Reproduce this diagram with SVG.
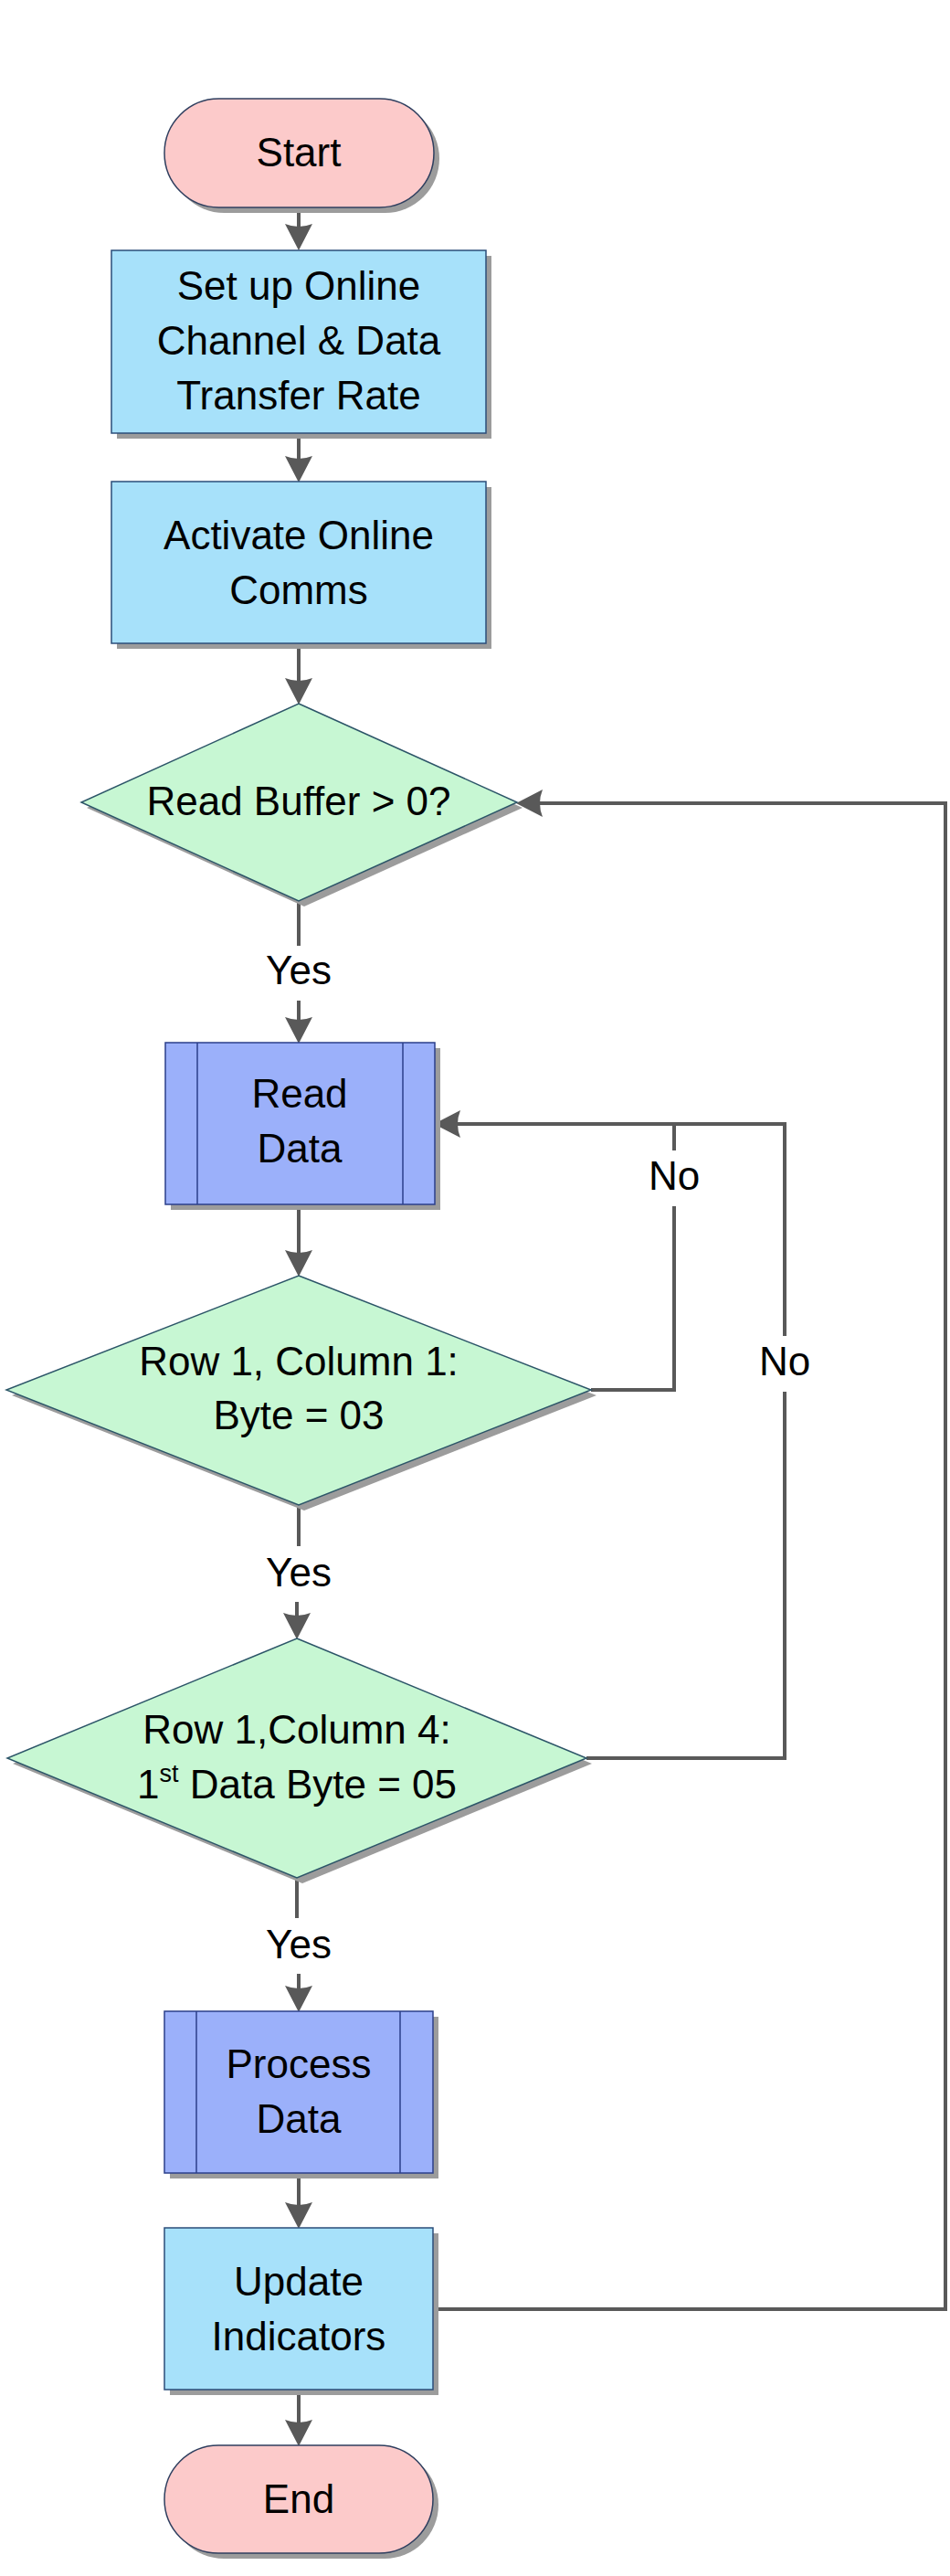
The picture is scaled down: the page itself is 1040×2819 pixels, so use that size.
<svg xmlns="http://www.w3.org/2000/svg" width="1040" height="2819" viewBox="0 0 1040 2819">
<style>
text{font-family:"Liberation Sans",Arial,sans-serif;font-size:44px;fill:#000;text-anchor:middle}
.sh{fill:#9c9c9c;stroke:none}
.term{fill:#fccaca;stroke:#2f3f5f;stroke-width:1.5}
.proc{fill:#a7e1fa;stroke:#2b4d7a;stroke-width:1.5}
.sub{fill:#9bb0fa;stroke:#2b3f8a;stroke-width:1.5}
.dec{fill:#c7f7d3;stroke:#2c5568;stroke-width:1.5}
.edge{fill:none;stroke:#595959;stroke-width:4;stroke-linejoin:miter}
.arr{marker-end:url(#ah)}
</style>
<defs>
<marker id="ah" markerUnits="userSpaceOnUse" markerWidth="30" markerHeight="32" viewBox="0 -16 30 32" refX="8" refY="0" orient="auto">
<path d="M29,0 L0,-15 Q6,0 0,15 Z" fill="#595959"/>
</marker>
</defs>
<rect width="1040" height="2819" fill="#fff"/>

<g id="connectors">
<path class="edge arr" d="M327,227 V253"/>
<path class="edge arr" d="M327,474 V507"/>
<path class="edge arr" d="M327,704 V750"/>
<path class="edge" d="M327,986 V1035"/>
<path class="edge arr" d="M327,1095 V1121"/>
<path class="edge arr" d="M327,1318 V1376"/>
<path class="edge" d="M327,1647 V1692"/>
<path class="edge arr" d="M325,1753 V1773"/>
<path class="edge" d="M325,2055 V2099"/>
<path class="edge arr" d="M327,2160 V2181"/>
<path class="edge arr" d="M327,2378 V2418"/>
<path class="edge arr" d="M327,2615 V2656"/>
<path class="edge" d="M647,1521 H738 V1320"/>
<path class="edge" d="M738,1259 V1230"/>
<path class="edge" d="M642,1924 H859 V1523"/>
<path class="edge arr" d="M859,1462 V1230 H496"/>
<path class="edge arr" d="M474,2527 H1035 V879 H586"/>
</g>

<g id="start">
<rect class="sh" x="186" y="114" width="295" height="119" rx="59.5"/>
<rect class="term" x="180" y="108" width="295" height="119" rx="59.5"/>
<text x="327" y="182">Start</text>
</g>

<g id="setup">
<rect class="sh" x="128" y="280" width="410" height="200"/>
<rect class="proc" x="122" y="274" width="410" height="200"/>
<text x="327" y="328">Set up Online</text>
<text x="327" y="388">Channel &amp; Data</text>
<text x="327" y="448">Transfer Rate</text>
</g>

<g id="activate">
<rect class="sh" x="128" y="533" width="410" height="177"/>
<rect class="proc" x="122" y="527" width="410" height="177"/>
<text x="327" y="601">Activate Online</text>
<text x="327" y="661">Comms</text>
</g>

<g id="buffer">
<polygon class="sh" points="333,776 572,884 333,992 95,884"/>
<polygon class="dec" points="327,770 566,878 327,986 89,878"/>
<text x="327" y="892">Read Buffer &gt; 0?</text>
</g>
<text x="327" y="1077">Yes</text>

<g id="readdata">
<rect class="sh" x="187" y="1147" width="295" height="177"/>
<rect class="sub" x="181" y="1141" width="295" height="177"/>
<line class="sub" x1="216" y1="1141" x2="216" y2="1318"/>
<line class="sub" x1="441" y1="1141" x2="441" y2="1318"/>
<text x="328" y="1212">Read</text>
<text x="328" y="1272">Data</text>
</g>
<text x="738" y="1302">No</text>

<g id="check1">
<polygon class="sh" points="333,1402 653,1527 333,1653 13,1527"/>
<polygon class="dec" points="327,1396 647,1521 327,1647 7,1521"/>
<text x="327" y="1505">Row 1, Column 1:</text>
<text x="327" y="1564">Byte = 03</text>
</g>
<text x="859" y="1505">No</text>
<text x="327" y="1736">Yes</text>

<g id="check2">
<polygon class="sh" points="331,1799 648,1930 331,2061 14,1930"/>
<polygon class="dec" points="325,1793 642,1924 325,2055 8,1924"/>
<text x="325" y="1908">Row 1,Column 4:</text>
<text x="325" y="1968">1<tspan font-size="27" dy="-18">st</tspan><tspan dy="18"> Data Byte = 05</tspan></text>
</g>
<text x="327" y="2143">Yes</text>

<g id="process">
<rect class="sh" x="186" y="2207" width="294" height="177"/>
<rect class="sub" x="180" y="2201" width="294" height="177"/>
<line class="sub" x1="215" y1="2201" x2="215" y2="2378"/>
<line class="sub" x1="438" y1="2201" x2="438" y2="2378"/>
<text x="327" y="2274">Process</text>
<text x="327" y="2334">Data</text>
</g>

<g id="update">
<rect class="sh" x="186" y="2444" width="294" height="177"/>
<rect class="proc" x="180" y="2438" width="294" height="177"/>
<text x="327" y="2512">Update</text>
<text x="327" y="2572">Indicators</text>
</g>

<g id="end">
<rect class="sh" x="186" y="2682" width="294" height="118" rx="59"/>
<rect class="term" x="180" y="2676" width="294" height="118" rx="59"/>
<text x="327" y="2750">End</text>
</g>
</svg>
